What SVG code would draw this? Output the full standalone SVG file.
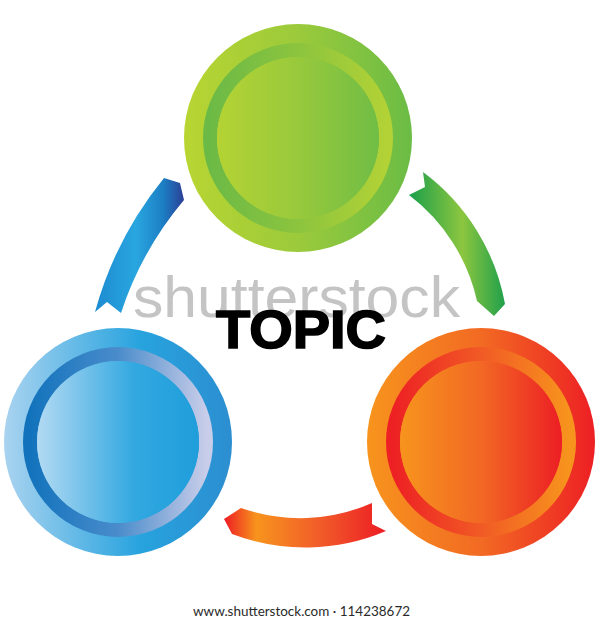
<svg xmlns="http://www.w3.org/2000/svg" width="600" height="620" viewBox="0 0 600 620">
<defs>
<linearGradient id="gOut" x1="0" y1="0" x2="1" y2="0"><stop offset="0" stop-color="#b8d532"/><stop offset="0.5" stop-color="#9bca3b"/><stop offset="1" stop-color="#6bbc45"/></linearGradient>
<linearGradient id="gRing" x1="0" y1="0" x2="1" y2="0"><stop offset="0" stop-color="#6cba46"/><stop offset="0.5" stop-color="#8cc43e"/><stop offset="1" stop-color="#b2d236"/></linearGradient>
<linearGradient id="gIn" x1="0" y1="0" x2="1" y2="0"><stop offset="0" stop-color="#b4d334"/><stop offset="0.5" stop-color="#98c93c"/><stop offset="1" stop-color="#70bd45"/></linearGradient>
<linearGradient id="oOut" x1="0" y1="0" x2="1" y2="0"><stop offset="0" stop-color="#f7941d"/><stop offset="0.5" stop-color="#f26a23"/><stop offset="1" stop-color="#ed1f24"/></linearGradient>
<linearGradient id="oRing" x1="0" y1="0" x2="1" y2="0"><stop offset="0" stop-color="#ed2024"/><stop offset="0.5" stop-color="#f15a25"/><stop offset="1" stop-color="#f7941d"/></linearGradient>
<linearGradient id="oIn" x1="0" y1="0" x2="1" y2="0"><stop offset="0" stop-color="#f7941d"/><stop offset="0.5" stop-color="#f26824"/><stop offset="1" stop-color="#ec1e24"/></linearGradient>
<linearGradient id="bOut" x1="0" y1="0" x2="1" y2="0"><stop offset="0" stop-color="#a9d3f0"/><stop offset="0.6" stop-color="#27a3de"/><stop offset="1" stop-color="#2c8ed0"/></linearGradient>
<linearGradient id="bRing" x1="0" y1="0" x2="1" y2="0"><stop offset="0" stop-color="#1273bc"/><stop offset="0.5" stop-color="#4a8ccb"/><stop offset="1" stop-color="#c8cde9"/></linearGradient>
<linearGradient id="bIn" x1="0" y1="0" x2="1" y2="0"><stop offset="0" stop-color="#b3daf3"/><stop offset="0.6" stop-color="#32a8e0"/><stop offset="1" stop-color="#1f9edb"/></linearGradient>
<linearGradient id="aBlue" gradientUnits="userSpaceOnUse" x1="95" y1="0" x2="186" y2="0"><stop offset="0" stop-color="#1c8bd0"/><stop offset="0.45" stop-color="#29a6e0"/><stop offset="0.75" stop-color="#1c7ec4"/><stop offset="1" stop-color="#2d3990"/></linearGradient>
<linearGradient id="aGreen" gradientUnits="userSpaceOnUse" x1="409" y1="0" x2="506" y2="0"><stop offset="0" stop-color="#1b9f4b"/><stop offset="0.55" stop-color="#8cc63f"/><stop offset="1" stop-color="#1e9f4b"/></linearGradient>
<linearGradient id="aOrange" gradientUnits="userSpaceOnUse" x1="224" y1="0" x2="386" y2="0"><stop offset="0" stop-color="#ed1c24"/><stop offset="0.2" stop-color="#f7941d"/><stop offset="0.6" stop-color="#f15a29"/><stop offset="1" stop-color="#ed1c24"/></linearGradient>
</defs>
<style>
.ring{fill:none;stroke-width:14}
.wm{font-family:"Liberation Sans",Arial,sans-serif;font-size:58px;fill:#c4c4c4}
.topic{font-family:"Liberation Sans",Arial,sans-serif;font-weight:bold;font-size:53px;fill:#000;stroke:#000;stroke-width:1.6}
.foot{font-family:Lato,"Liberation Sans",sans-serif;font-size:13px;fill:#2a2a2a}
</style>
<rect width="600" height="620" fill="#fff"/>
<g id="connectors">
<path id="arrow-blue-green" fill="url(#aBlue)" d="M95,312 A365,365 0 0 1 164,178 L180,183 L184,200 A337,337 0 0 0 121,313 L107,302 Z"/>
<path id="arrow-green-orange" fill="url(#aGreen)" d="M423,172 A211,211 0 0 1 505,304 L494,316 L477,301 A183,183 0 0 0 409,195 L425,187 Z"/>
<path id="arrow-orange-blue" fill="url(#aOrange)" d="M372,503 L372,524 L386,531 A206,206 0 0 1 232,534 L224,519 L241,508 A178,178 0 0 0 372,503 Z"/>
</g>
<g id="node-green">
<circle cx="298" cy="138" r="114" fill="url(#gOut)"/>
<circle cx="298" cy="138" r="88" class="ring" stroke="url(#gRing)"/>
<circle cx="298" cy="138" r="81" fill="url(#gIn)"/>
</g>
<g id="node-orange">
<circle cx="481" cy="442" r="114" fill="url(#oOut)"/>
<circle cx="481" cy="442" r="88" class="ring" stroke="url(#oRing)"/>
<circle cx="481" cy="442" r="81" fill="url(#oIn)"/>
</g>
<g id="node-blue">
<circle cx="118" cy="442" r="114" fill="url(#bOut)"/>
<circle cx="118" cy="442" r="88" class="ring" stroke="url(#bRing)"/>
<circle cx="118" cy="442" r="81" fill="url(#bIn)"/>
</g>
<text class="wm" x="133" y="317" textLength="327" lengthAdjust="spacingAndGlyphs">shutterstock</text>
<g id="node-topic">
<text class="topic" x="301" y="348" text-anchor="middle" textLength="170" lengthAdjust="spacingAndGlyphs">TOPIC</text>
</g>
<text class="foot" x="193" y="616" textLength="217" lengthAdjust="spacingAndGlyphs">www.shutterstock.com · 114238672</text>
</svg>
